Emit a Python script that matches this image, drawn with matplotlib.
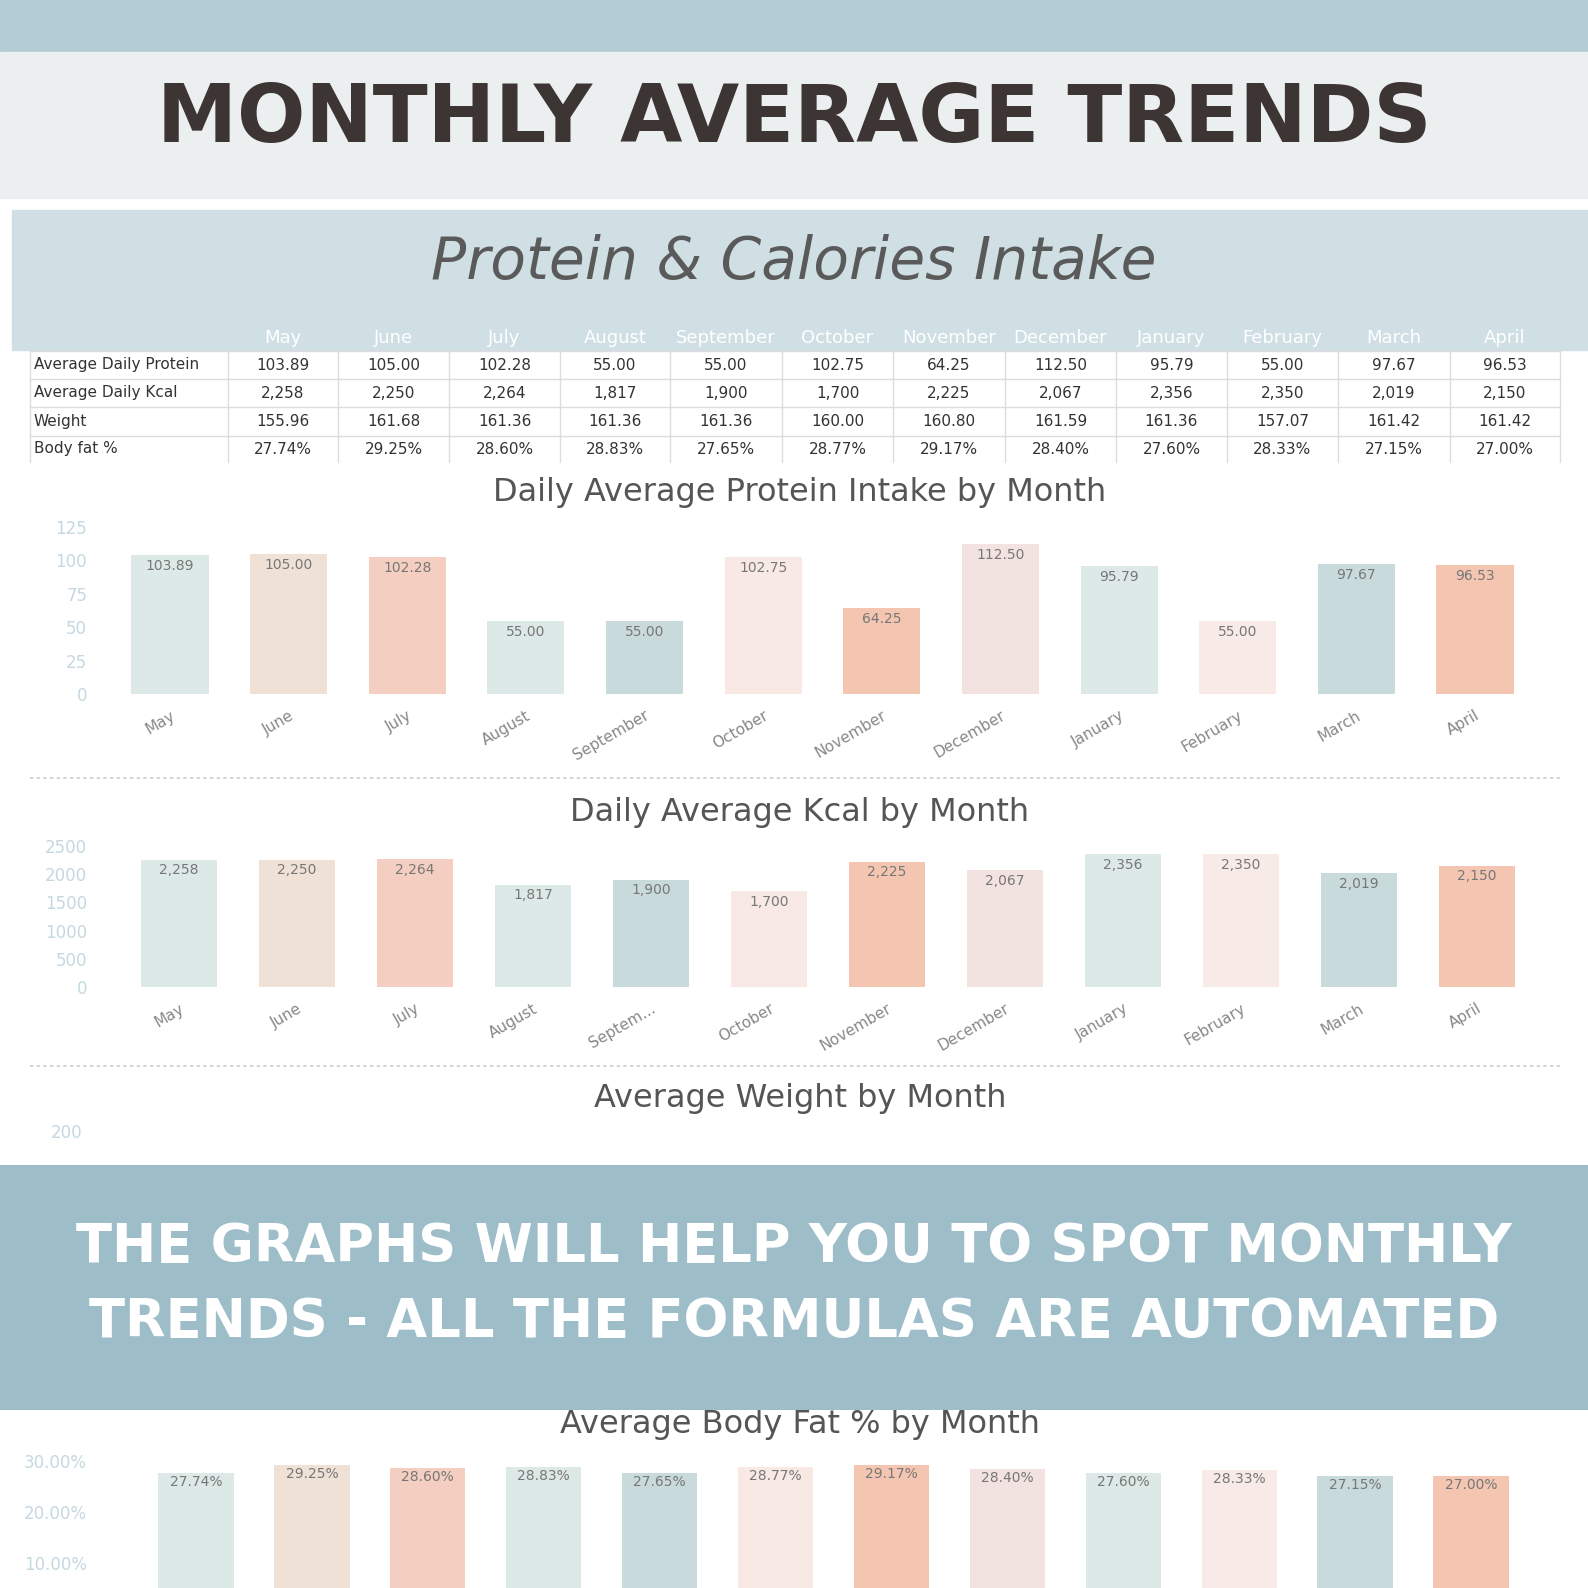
import matplotlib.pyplot as plt
from matplotlib.patches import Rectangle

# Daten
months = ['May', 'June', 'July', 'August', 'September', 'October',
          'November', 'December', 'January', 'February', 'March', 'April']
kcal_labels = ['May', 'June', 'July', 'August', 'Septem...', 'October',
               'November', 'December', 'January', 'February', 'March', 'April']
protein = [103.89, 105.00, 102.28, 55.00, 55.00, 102.75, 64.25, 112.50, 95.79, 55.00, 97.67, 96.53]
kcal = [2258, 2250, 2264, 1817, 1900, 1700, 2225, 2067, 2356, 2350, 2019, 2150]
weight = [155.96, 161.68, 161.36, 161.36, 161.36, 160.00, 160.80, 161.59, 161.36, 157.07, 161.42, 161.42]
bodyfat = [27.74, 29.25, 28.60, 28.83, 27.65, 28.77, 29.17, 28.40, 27.60, 28.33, 27.15, 27.00]
row_names = ['Average Daily Protein', 'Average Daily Kcal', 'Weight', 'Body fat %']

bar_colors = ['#dce9e6', '#f0e1d7', '#f4cfc1', '#dce9e6', '#c9dadd', '#f8e9e4',
              '#f4c6b2', '#f2e3e0', '#dce9e6', '#f8ebe7', '#c9dadd', '#f4c6b2']

W = 1588
fig = plt.figure(figsize=(15.88, 15.88), dpi=100)
fig.patch.set_facecolor('white')

# Hintergrund-Achse in Pixelkoordinaten
bg = fig.add_axes([0, 0, 1, 1])
bg.set_xlim(0, W); bg.set_ylim(W, 0); bg.axis('off')
bg.add_patch(Rectangle((0, 0), W, 52, color='#b3ccd6'))
bg.add_patch(Rectangle((0, 52), W, 146, color='#ebeff0'))
bg.text(W / 2, 120, 'MONTHLY AVERAGE TRENDS', ha='center', va='center',
        fontsize=58, fontweight='bold', color='#3d3533')
bg.add_patch(Rectangle((12, 210), 1576, 140, color='#cfdfe3'))
bg.text(W / 2, 262, 'Protein & Calories Intake', ha='center', va='center',
        fontsize=42, style='italic', color='#5a5a5a')

# Tabelle
col_edges = [30, 228, 338, 449, 560, 670, 782, 893, 1005, 1116, 1227, 1338, 1450, 1560]
row_edges = [351, 379, 407, 436, 462]
for x in col_edges:
    bg.plot([x, x], [351, 462], color='#dddddd', lw=1)
for y in row_edges[:-1]:
    bg.plot([30, 1560], [y, y], color='#dddddd', lw=1)
rows = [[f'{v:.2f}' for v in protein], [f'{v:,}' for v in kcal],
        [f'{v:.2f}' for v in weight], [f'{v:.2f}%' for v in bodyfat]]
for j, m in enumerate(months):
    cx = (col_edges[j + 1] + col_edges[j + 2]) / 2
    bg.text(cx, 338, m, ha='center', va='center', fontsize=13, color='white')
    for i in range(4):
        cy = (row_edges[i] + row_edges[i + 1]) / 2
        bg.text(cx, cy, rows[i][j], ha='center', va='center', fontsize=11, color='#333333')
for i, name in enumerate(row_names):
    cy = (row_edges[i] + row_edges[i + 1]) / 2
    bg.text(34, cy, name, ha='left', va='center', fontsize=11, color='#333333')

# Trennlinien
for y in [778, 1066]:
    bg.plot([30, 1560], [y, y], color='#cccccc', lw=1.2, ls=(0, (2, 2)))

titles = [(492, 'Daily Average Protein Intake by Month'), (812, 'Daily Average Kcal by Month'),
          (1098, 'Average Weight by Month'), (1425, 'Average Body Fat % by Month')]
for y, t in titles:
    bg.text(800, y, t, ha='center', va='center', fontsize=23, color='#555555')


def bar_axes(c0, c11, y0px, ytop_px, ytop_val, ax_top, ax_bot):
    # Achse so legen, dass Balkenmitte und y-Werte auf Pixel passen
    step = (c11 - c0) / 11
    left, right = 92, 1545
    ax = fig.add_axes([left / W, 1 - ax_bot / W, (right - left) / W, (ax_bot - ax_top) / W])
    ax.set_xlim((left - c0) / step, (right - c0) / step)
    scale = ytop_val / (y0px - ytop_px)
    ax.set_ylim((y0px - ax_bot) * scale, (y0px - ax_top) * scale)
    ax.patch.set_alpha(0)
    for s in ax.spines.values():
        s.set_visible(False)
    ax.tick_params(length=0, colors='#c5d8e0', labelsize=12)
    return ax


def month_ticks(ax, labels):
    ax.set_xticks(list(range(12)), labels, rotation=30, color='#888888', fontsize=11,
                  ha='right', rotation_mode='anchor')
    ax.tick_params(axis='x', pad=10)


x = range(12)
ax1 = bar_axes(170, 1475, 694, 527, 125, 520, 694)
ax1.bar(x, protein, width=0.65, color=bar_colors)
ax1.set_yticks([0, 25, 50, 75, 100, 125])
month_ticks(ax1, months)
for i, v in enumerate(protein):
    ax1.text(i, v - 3, f'{v:.2f}', ha='center', va='top', fontsize=10, color='#777777')

ax2 = bar_axes(179, 1477, 987, 846, 2500, 840, 987)
ax2.bar(x, kcal, width=0.65, color=bar_colors)
ax2.set_yticks([0, 500, 1000, 1500, 2000, 2500])
month_ticks(ax2, kcal_labels)
for i, v in enumerate(kcal):
    ax2.text(i, v - 60, f'{v:,}', ha='center', va='top', fontsize=10, color='#777777')

bg.text(82, 1133, '200', ha='right', va='center', fontsize=12, color='#c5d8e0')

ax4 = bar_axes(196, 1471, 1614, 1461, 30, 1450, 1588)
ax4.bar(x, bodyfat, width=0.65, color=bar_colors)
ax4.set_yticks([10, 20, 30], ['10.00%', '20.00%', '30.00%'])
ax4.set_xticks([])
for i, v in enumerate(bodyfat):
    ax4.text(i, v - 0.4, f'{v:.2f}%', ha='center', va='top', fontsize=10, color='#777777')

# Banner unten
ban = fig.add_axes([0, 1 - 1410 / W, 1, 245 / W])
ban.set_xlim(0, W); ban.set_ylim(1410, 1165); ban.axis('off')
ban.add_patch(Rectangle((0, 1165), W, 245, color='#9dbdc9'))
ban.text(W / 2, 1247, 'THE GRAPHS WILL HELP YOU TO SPOT MONTHLY', ha='center', va='center',
         fontsize=38, fontweight='bold', color='white')
ban.text(W / 2, 1322, 'TRENDS - ALL THE FORMULAS ARE AUTOMATED', ha='center', va='center',
         fontsize=38, fontweight='bold', color='white')

plt.savefig('out.png', dpi=100)
